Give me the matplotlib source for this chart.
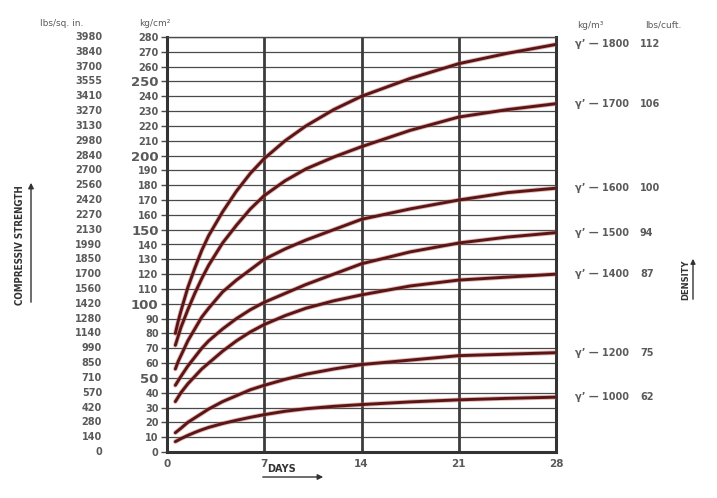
import numpy as np
import matplotlib
matplotlib.use("Agg")
import matplotlib.pyplot as plt
from matplotlib.transforms import blended_transform_factory

days = [0.6, 0.8, 1, 1.5, 2, 2.5, 3, 4, 5, 6, 7, 8.5, 10, 12, 14, 17.5, 21, 24.5, 28]

# compressive strength in kg/cm2 for each density
s1800 = [80, 88, 95, 111, 124, 136, 146, 162, 176, 188, 198, 210, 220, 231, 240, 252, 262, 269, 275]
s1700 = [72, 78, 84, 96, 107, 117, 126, 141, 153, 164, 173, 183, 191, 199, 206, 217, 226, 231, 235]
s1600 = [56, 61, 65, 75, 83, 91, 97, 108, 116, 123, 130, 137, 143, 150, 157, 164, 170, 175, 178]
s1500 = [45, 48, 51, 58, 64, 70, 75, 83, 90, 96, 101, 107, 113, 120, 127, 135, 141, 145, 148]
s1400 = [34, 37, 40, 46, 51, 56, 60, 68, 75, 81, 86, 92, 97, 102, 106, 112, 116, 118, 120]
s1200 = [13, 14.5, 16, 20, 23, 26, 29, 34, 38, 42, 45, 49, 52.5, 56, 59, 62, 65, 66, 67]
s1000 = [7, 8, 9, 11.2, 13.2, 15, 16.6, 19.2, 21.4, 23.4, 25.2, 27.5, 29.2, 30.8, 32, 33.8, 35.2, 36.2, 37]

series = [s1800, s1700, s1600, s1500, s1400, s1200, s1000]
dens_kgm3 = ["1800", "1700", "1600", "1500", "1400", "1200", "1000"]
dens_lbcf = ["112", "106", "100", "94", "87", "75", "62"]

kg_ticks = list(range(0, 290, 10))
lbs_labels = ["0", "140", "280", "420", "570", "710", "850", "990", "1140", "1280",
              "1420", "1560", "1700", "1850", "1990", "2130", "2270", "2420", "2560",
              "2700", "2840", "2980", "3130", "3270", "3410", "3555", "3700", "3840", "3980"]
day_ticks = [0, 7, 14, 21, 28]

txt = "#5a5a5a"
grid = "#4a4a4a"

fig = plt.figure(figsize=(7.17, 4.98), dpi=100)
ax = fig.add_axes([167 / 717, 46 / 498, 389 / 717, 415 / 498])
ax.set_xlim(0, 28)
ax.set_ylim(0, 280)

for y in kg_ticks[1:]:
    ax.axhline(y, color=grid, lw=0.9, zorder=1)
for x in day_ticks[1:-1]:
    ax.axvline(x, color="#3c3c3c", lw=2.0, zorder=1)

for s in series:
    ax.plot(days, s, color="#b86060", lw=3.4, alpha=0.45, solid_capstyle="round",
            solid_joinstyle="round", zorder=3)
    ax.plot(days, s, color="#5c1515", lw=2.1, solid_capstyle="round",
            solid_joinstyle="round", zorder=4)

for side in ("left", "right", "bottom"):
    ax.spines[side].set_linewidth(2.2)
    ax.spines[side].set_color("#333333")
ax.spines["top"].set_linewidth(1.0)
ax.spines["top"].set_color(grid)

ax.set_yticks(kg_ticks)
ax.set_yticklabels([str(v) for v in kg_ticks])
for lab, v in zip(ax.get_yticklabels(), kg_ticks):
    lab.set_fontsize(9.5 if v % 50 == 0 and v > 0 else 7)
    lab.set_color(txt)
    lab.set_fontweight("bold")
ax.tick_params(axis="y", length=4, width=1, color=grid, pad=2)

ax.set_xticks(day_ticks)
ax.set_xticklabels([str(d) for d in day_ticks], fontsize=7.5, color=txt, fontweight="bold")
ax.tick_params(axis="x", length=0, pad=5)

# second scale on the left: lbs/sq. in.
tl = blended_transform_factory(fig.transFigure, ax.transData)
for v, lab in zip(kg_ticks, lbs_labels):
    fig.text(102 / 717, v, lab, transform=tl, ha="right", va="center",
             fontsize=7, color=txt, fontweight="bold")

# density labels on the right
for s, d, c in zip(series, dens_kgm3, dens_lbcf):
    fig.text(575 / 717, s[-1], "γ’ — " + d, transform=tl, ha="left", va="center",
             fontsize=7, color=txt, fontweight="bold")
    fig.text(640 / 717, s[-1], c, transform=tl, ha="left", va="center",
             fontsize=7, color=txt, fontweight="bold")

# column headers
fig.text(62 / 717, 1 - 24 / 498, "lbs/sq. in.", ha="center", va="center", fontsize=6.5, color=txt)
fig.text(155 / 717, 1 - 24 / 498, "kg/cm²", ha="center", va="center", fontsize=6.5, color=txt)
fig.text(590 / 717, 1 - 25 / 498, "kg/m³", ha="center", va="center", fontsize=6.5, color=txt)
fig.text(663 / 717, 1 - 25 / 498, "lbs/cuft.", ha="center", va="center", fontsize=6.5, color=txt)

# axis titles with arrows
fig.text(20 / 717, 1 - 245 / 498, "COMPRESSIV STRENGTH", rotation=90, ha="center", va="center",
         fontsize=7, color="#333333", fontweight="bold", fontstretch="condensed")
ax.annotate("", xy=(31 / 717, 1 - 180 / 498), xytext=(31 / 717, 1 - 305 / 498),
            xycoords="figure fraction", textcoords="figure fraction",
            arrowprops=dict(arrowstyle="-|>", color="#333333", lw=1.0, mutation_scale=8))

fig.text(281 / 717, 1 - 469 / 498, "DAYS", ha="center", va="center",
         fontsize=7, color="#333333", fontweight="bold")
ax.annotate("", xy=(326 / 717, 1 - 477 / 498), xytext=(260 / 717, 1 - 477 / 498),
            xycoords="figure fraction", textcoords="figure fraction",
            arrowprops=dict(arrowstyle="-|>", color="#333333", lw=1.0, mutation_scale=8))

fig.text(686 / 717, 1 - 280 / 498, "DENSITY", rotation=90, ha="center", va="center",
         fontsize=6, color="#333333", fontweight="bold")
ax.annotate("", xy=(693 / 717, 1 - 256 / 498), xytext=(693 / 717, 1 - 302 / 498),
            xycoords="figure fraction", textcoords="figure fraction",
            arrowprops=dict(arrowstyle="-|>", color="#333333", lw=1.0, mutation_scale=7))

fig.savefig("out.png", dpi=100, facecolor="white")
